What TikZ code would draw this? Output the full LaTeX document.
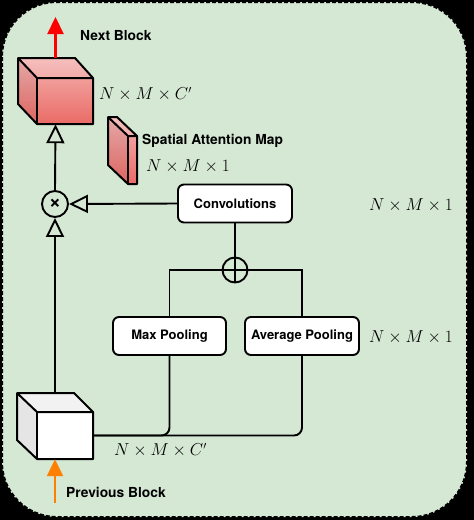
\documentclass[tikz,border=0pt]{standalone}
\usepackage{fontspec}
\setsansfont{TeX Gyre Heros}
\usetikzlibrary{arrows.meta}
\definecolor{bggreen}{HTML}{D5E8D4}
\definecolor{redA}{HTML}{F4B4B2}
\definecolor{redB}{HTML}{EA6B66}
\definecolor{orangeA}{HTML}{FF8000}
\begin{document}
\begin{tikzpicture}[x=1pt,y=-1pt,
  conn/.style={line width=1.9pt,draw=black},
  openarrow/.style={conn,-{Triangle[open,length=19pt,width=18pt,line width=1.9pt]}},
  box/.style={draw,line width=1.9pt,rounded corners=6pt,fill=white,minimum width=114pt,minimum height=38pt,inner sep=0pt,font=\sffamily\bfseries\fontsize{13}{15}\selectfont},
  lab/.style={inner sep=0pt,anchor=west,font=\sffamily\bfseries\fontsize{13.8}{16}\selectfont},
  mathlab/.style={inner sep=0pt,anchor=west,font=\fontsize{17}{19}\selectfont},
  edgeline/.style={line width=2pt,line join=round}
]
\useasboundingbox (0,0) rectangle (474,520);
\fill[black] (0,0) rectangle (474,520);
\draw[fill=bggreen,draw=black,line width=2pt,dash pattern=on 4pt off 2pt,rounded corners=55pt] (2,2) rectangle (467,517);

% ---------- top cube ----------
\shade[top color=redA,bottom color=redB] (18,58) -- (75,58) -- (93,78) -- (93,124) -- (37,124) -- (18,104) -- cycle;
\fill[white,opacity=0.15] (18,58) -- (75,58) -- (93,78) -- (37,78) -- cycle;
\fill[black,opacity=0.06] (18,58) -- (37,78) -- (37,124) -- (18,104) -- cycle;
\draw[edgeline] (18,58) -- (75,58) -- (93,78) -- (93,124) -- (37,124) -- (18,104) -- cycle;
\draw[edgeline] (18,58) -- (37,78) -- (93,78);
\draw[edgeline] (37,78) -- (37,124);
\node[inner sep=0pt,minimum width=75pt,minimum height=66pt] (tcb) at (55.5,91) {};

% ---------- attention slab ----------
\shade[top color=redA,bottom color=redB] (108,117) -- (117,117) -- (137,136) -- (137,184) -- (128,184) -- (108,165) -- cycle;
\fill[white,opacity=0.15] (108,117) -- (117,117) -- (137,136) -- (128,136) -- cycle;
\fill[black,opacity=0.06] (108,117) -- (128,136) -- (128,184) -- (108,165) -- cycle;
\draw[edgeline] (108,117) -- (117,117) -- (137,136) -- (137,184) -- (128,184) -- (108,165) -- cycle;
\draw[edgeline] (108,117) -- (128,136) -- (137,136);
\draw[edgeline] (128,136) -- (128,184);
\node[inner sep=0pt,minimum width=29pt,minimum height=67pt] (sam) at (122.5,150.5) {};

% ---------- bottom cube ----------
\fill[white] (17,393) -- (74,393) -- (93,412) -- (93,459) -- (37,459) -- (17,440) -- cycle;
\fill[black,opacity=0.05] (17,393) -- (74,393) -- (93,412) -- (37,412) -- cycle;
\fill[black,opacity=0.10] (17,393) -- (37,412) -- (37,459) -- (17,440) -- cycle;
\draw[edgeline] (17,393) -- (74,393) -- (93,412) -- (93,459) -- (37,459) -- (17,440) -- cycle;
\draw[edgeline] (17,393) -- (37,412) -- (93,412);
\draw[edgeline] (37,412) -- (37,459);
\node[inner sep=0pt,minimum width=76pt,minimum height=66pt] (bcb) at (55,426) {};
\node[inner sep=0pt,minimum width=56pt,minimum height=47pt] (bcf) at (65,435.5) {};

% ---------- operators ----------
\node[draw,circle,line width=1.9pt,minimum size=26pt,inner sep=0pt,font=\sffamily\bfseries\fontsize{21}{21}\selectfont] (mul) at (55,204) {\raisebox{0.5pt}{×}};
\node[draw,circle,line width=1.9pt,minimum size=25pt,inner sep=0pt] (plus) at (235,270) {};
\draw[line width=1.9pt] (plus.north) -- (plus.south) (plus.west) -- (plus.east);

% ---------- boxes ----------
\node[box] (conv) at (235,203.5) {Convolutions};
\node[box,minimum width=113pt] (mp) at (169.5,336) {Max Pooling};
\node[box] (ap) at (302,336) {Average Pooling};

% ---------- connectors ----------
\draw[conn,rounded corners=8pt] (bcf.east) -| (mp.south);
\draw[conn,rounded corners=8pt] (bcf.east) -| (ap.south);
\draw[conn] (mp.north) |- (plus.west);
\draw[conn] (ap.north) |- (plus.east);
\draw[conn] (conv.south) -- (plus.north);
\draw[openarrow] (conv.west) -- (mul.east);
\draw[openarrow] (bcb.north) -- (mul.south);
\draw[openarrow] (mul.north) -- (tcb.south);
\coordinate (nexttip) at (55.5,17);
\coordinate (prevtail) at (55,503);
\draw[line width=2.2pt,red,-{Triangle[length=17pt,width=16pt]}] (tcb.north) -- (nexttip);
\draw[line width=2.2pt,orangeA,-{Triangle[length=17pt,width=16pt]}] (prevtail) -- (bcb.south);

% ---------- labels ----------
\node[lab] (lnext) at (80,36) {Next Block};
\node[lab] (lprev) at (66,492) {Previous Block};
\node[lab] (lsam) at (142,141) {Spatial Attention Map};
\node[mathlab,font=\fontsize{16}{18}\selectfont] (dtop) at (99,94) {$N\times M\times C'$};
\node[mathlab] (dsam) at (146,166) {$N\times M\times 1$};
\node[mathlab] (dconv) at (369,205) {$N\times M\times 1$};
\node[mathlab] (dpool) at (369,337) {$N\times M\times 1$};
\node[mathlab,font=\fontsize{16}{18}\selectfont] (dbot) at (114,450) {$N\times M\times C'$};
\end{tikzpicture}
\end{document}
